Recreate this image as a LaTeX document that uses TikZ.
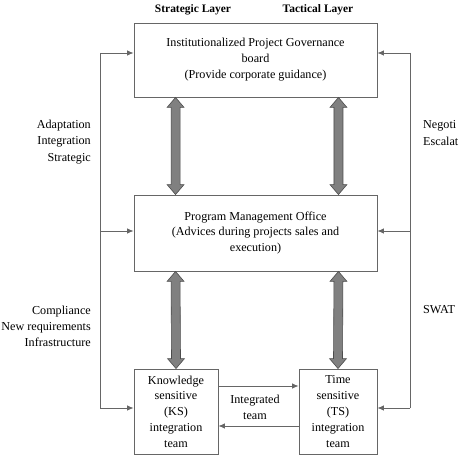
\documentclass[tikz,border=0pt]{standalone}
\usepackage{fontspec}
\setmainfont{Liberation Serif}
\usetikzlibrary{arrows.meta,calc}
\definecolor{linec}{gray}{0.4}
\definecolor{arrfill}{gray}{0.5}
\definecolor{arrdraw}{gray}{0.3}
\tikzset{
  box/.style={draw=linec, line width=0.9pt, rectangle, align=center, inner sep=0pt,
    font=\fontsize{12.2}{16}\selectfont},
  conn/.style={draw=linec, line width=0.8pt},
  tip/.style={conn, -{Latex[length=6.5bp,width=5.5bp]}},
  lbl/.style={font=\fontsize{12.2}{16.2}\selectfont, inner sep=0pt},
  hdr/.style={font=\fontsize{11.5}{14}\selectfont\bfseries, inner sep=0pt},
  garrowst/.style={fill=arrfill, draw=arrdraw, line width=0.6pt, line join=miter}
}
\newcommand\garrow[2]{\path[garrowst] let \p1=(#1), \p2=(#2) in
  (\x1,\y1) -- (\x1+8.5bp,\y1-10bp) -- (\x1+4.5bp,\y1-10bp) -- (\x2+4.5bp,\y2+10bp)
  -- (\x2+8.5bp,\y2+10bp) -- (\x2,\y2) -- (\x2-8.5bp,\y2+10bp) -- (\x2-4.5bp,\y2+10bp)
  -- (\x1-4.5bp,\y1-10bp) -- (\x1-8.5bp,\y1-10bp) -- cycle;}
\begin{document}
\begin{tikzpicture}[x=1bp,y=-1bp]
\useasboundingbox[fill=white] (0,0) rectangle (474,459);

\node[hdr] (sl) at (193,10) {Strategic Layer};
\node[hdr] (tl) at (318,10) {Tactical Layer};

\node[box, minimum width=243bp, minimum height=74bp] (top) at (255.5,60)
  {Institutionalized Project Governance\\board\\(Provide corporate guidance)};
\node[box, minimum width=243bp, minimum height=76bp] (mid) at (255.5,233)
  {Program Management Office\\(Advices during projects sales and\\execution)};
\node[box, minimum width=84bp, minimum height=85bp, font=\fontsize{12.2}{15.8}\selectfont] (ks) at (176,411.5)
  {Knowledge\\sensitive\\(KS)\\integration\\team};
\node[box, minimum width=78bp, minimum height=85bp, font=\fontsize{12.2}{16}\selectfont] (ts) at (338,411.5)
  {Time\\sensitive\\(TS)\\integration\\team};

% double arrows
\garrow{[xshift=42bp]top.south west}{[xshift=42bp]mid.north west}
\garrow{[xshift=-39bp]top.south east}{[xshift=-39bp]mid.north east}
\garrow{[xshift=42bp]mid.south west}{ks.north}
\garrow{[xshift=-39bp]mid.south east}{ts.north}

% left feedback line
\coordinate (l1) at (100,53);
\coordinate (l2) at (100,231);
\coordinate (l3) at (100,408);
\draw[conn] (l1) -- (l3);
\draw[tip] (l1) -- (l1 -| top.west);
\draw[tip] (l2) -- (l2 -| mid.west);
\draw[tip] (l3) -- (l3 -| ks.west);

% right feedback line
\coordinate (r1) at (410,53);
\coordinate (r2) at (410,231);
\coordinate (r3) at (410,408);
\draw[conn] (r1) -- (r3);
\draw[tip] (r1) -- (r1 -| top.east);
\draw[tip] (r2) -- (r2 -| mid.east);
\draw[tip] (r3) -- (r3 -| ts.east);

% KS <-> TS
\coordinate (h1) at (0,386);
\coordinate (h2) at (0,426);
\draw[tip] (ks.east |- h1) -- (ts.west |- h1);
\draw[tip] (ts.west |- h2) -- (ks.east |- h2);
\node[lbl, align=center] (it) at (255,407) {Integrated\\team};

% side labels
\node[lbl, align=right, anchor=east] (la) at (91,142) {Adaptation\\Integration\\Strategic};
\node[lbl, align=right, anchor=east] (lb) at (91,326) {Compliance\\New requirements\\Infrastructure};
\node[lbl, align=left, anchor=west] (ra) at (423,133) {Negoti\\Escalat};
\node[lbl, align=left, anchor=west] (rb) at (423,310) {SWAT};
\end{tikzpicture}
\end{document}
